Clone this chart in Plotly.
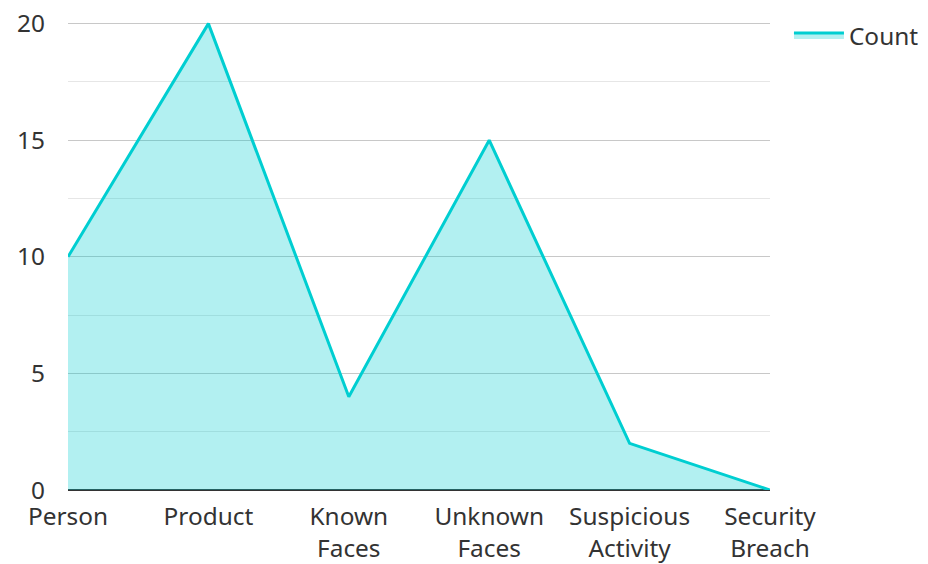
import plotly.graph_objects as go

categories = ["Person", "Product", "Known<br>Faces", "Unknown<br>Faces", "Suspicious<br>Activity", "Security<br>Breach"]
counts = [10, 20, 4, 15, 2, 0]
series_name = "Count"

FONT = "Noto Sans"
LINE = "#00CED1"

fig = go.Figure()
fig.add_trace(go.Scatter(
    x=categories, y=counts, name=series_name, mode="lines",
    line=dict(color=LINE, width=3), fill="tozeroy",
    fillcolor="rgba(0,206,209,0.3)", cliponaxis=False,
))

fig.update_layout(
    width=920, height=556,
    margin=dict(l=60, r=158, t=14, b=74, autoexpand=False),
    paper_bgcolor="white", plot_bgcolor="white",
    font=dict(family=FONT, size=24.4, color="#333333"),
    showlegend=True,
    legend=dict(x=1.027, y=1.02, xanchor="left", yanchor="top",
                font=dict(size=24.4, color="#333333"), itemwidth=50),
    xaxis=dict(range=[0, 5], showgrid=False, ticks="", showline=False,
               zeroline=False, tickfont=dict(size=24.4), automargin=False,
               ticklabelstandoff=10, ticklabeloverflow="allow"),
    yaxis=dict(range=[0, 20.07], tick0=0, dtick=5, showgrid=True, gridcolor="#c8c8c8",
               gridwidth=1, zeroline=True, zerolinecolor="#333333", zerolinewidth=2,
               showline=False, ticks="", ticklabelstandoff=22, automargin=False,
               ticklabeloverflow="allow",
               minor=dict(dtick=2.5, showgrid=True, gridcolor="#e6e6e6", gridwidth=1),
               tickfont=dict(size=24.4)),
)

fig.write_html("out.html")
